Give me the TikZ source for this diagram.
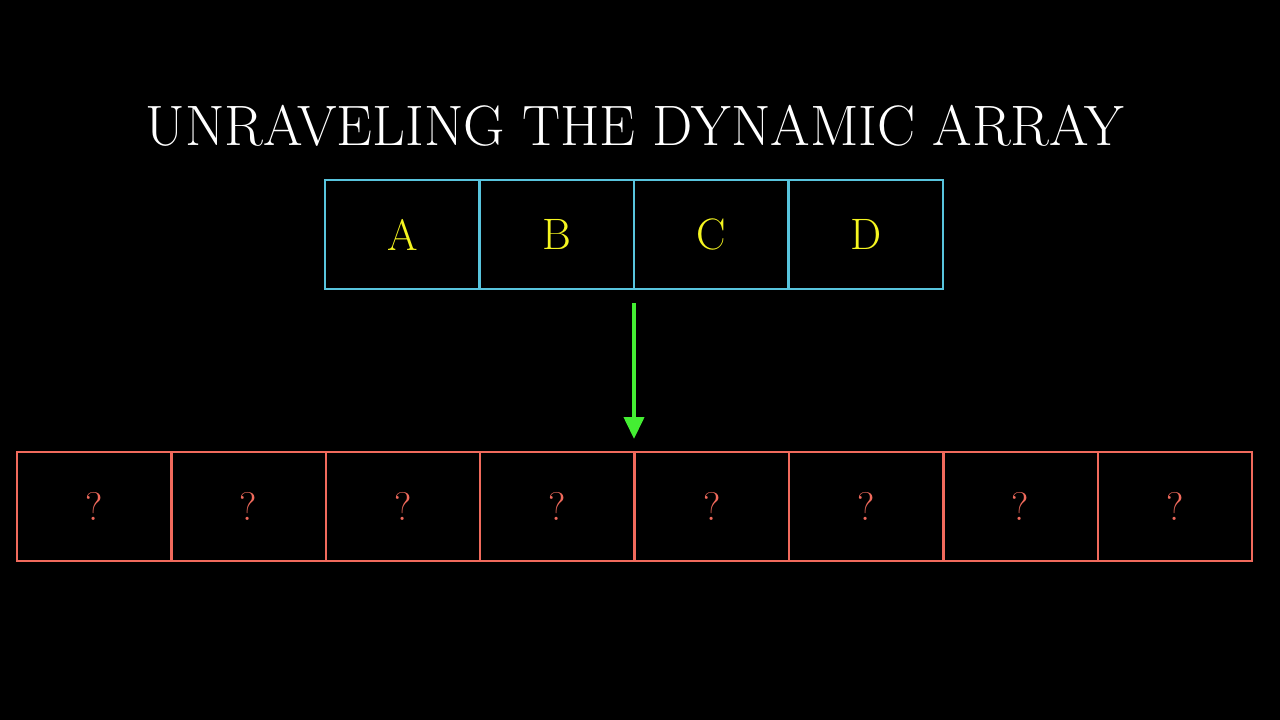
\documentclass[tikz,border=0pt]{standalone}
\usetikzlibrary{arrows.meta}
\definecolor{cblue}{HTML}{58C4DD}
\definecolor{cyel}{HTML}{F5F520}
\definecolor{cred}{HTML}{F06A5C}
\definecolor{cgreen}{HTML}{44EE33}
\tikzset{
  topcell/.style={draw=cblue,line width=2.5pt,minimum width=154.5pt,minimum height=109pt,inner sep=0pt,text=cyel,font=\fontsize{44}{48}\selectfont},
  botcell/.style={draw=cred,line width=2.5pt,minimum width=154.4pt,minimum height=109pt,inner sep=0pt,text=cred,font=\fontsize{40}{44}\selectfont},
}
\begin{document}
\begin{tikzpicture}[x=1pt,y=-1pt]
\fill[black] (0,0) rectangle (1280,720);
\useasboundingbox (0,0) rectangle (1280,720);
\node[text=white,font=\fontsize{57}{60}\selectfont] (title) at (635,126) {UNRAVELING THE DYNAMIC ARRAY};
\foreach \l [count=\i from 0] in {A,B,C,D}
  \node[topcell] (t\i) at ({325+154.5*\i+77.25},234.5) {\l};
\foreach \i in {0,...,7}
  \node[botcell] (b\i) at ({17+154.4*\i+77.2},506.5) {?};
\coordinate (s) at (634,303);
\coordinate (e) at (634,439);
\draw[cgreen,line width=4pt,-{Triangle[length=22pt,width=20pt]}] (s) -- (e);
\end{tikzpicture}
\end{document}
